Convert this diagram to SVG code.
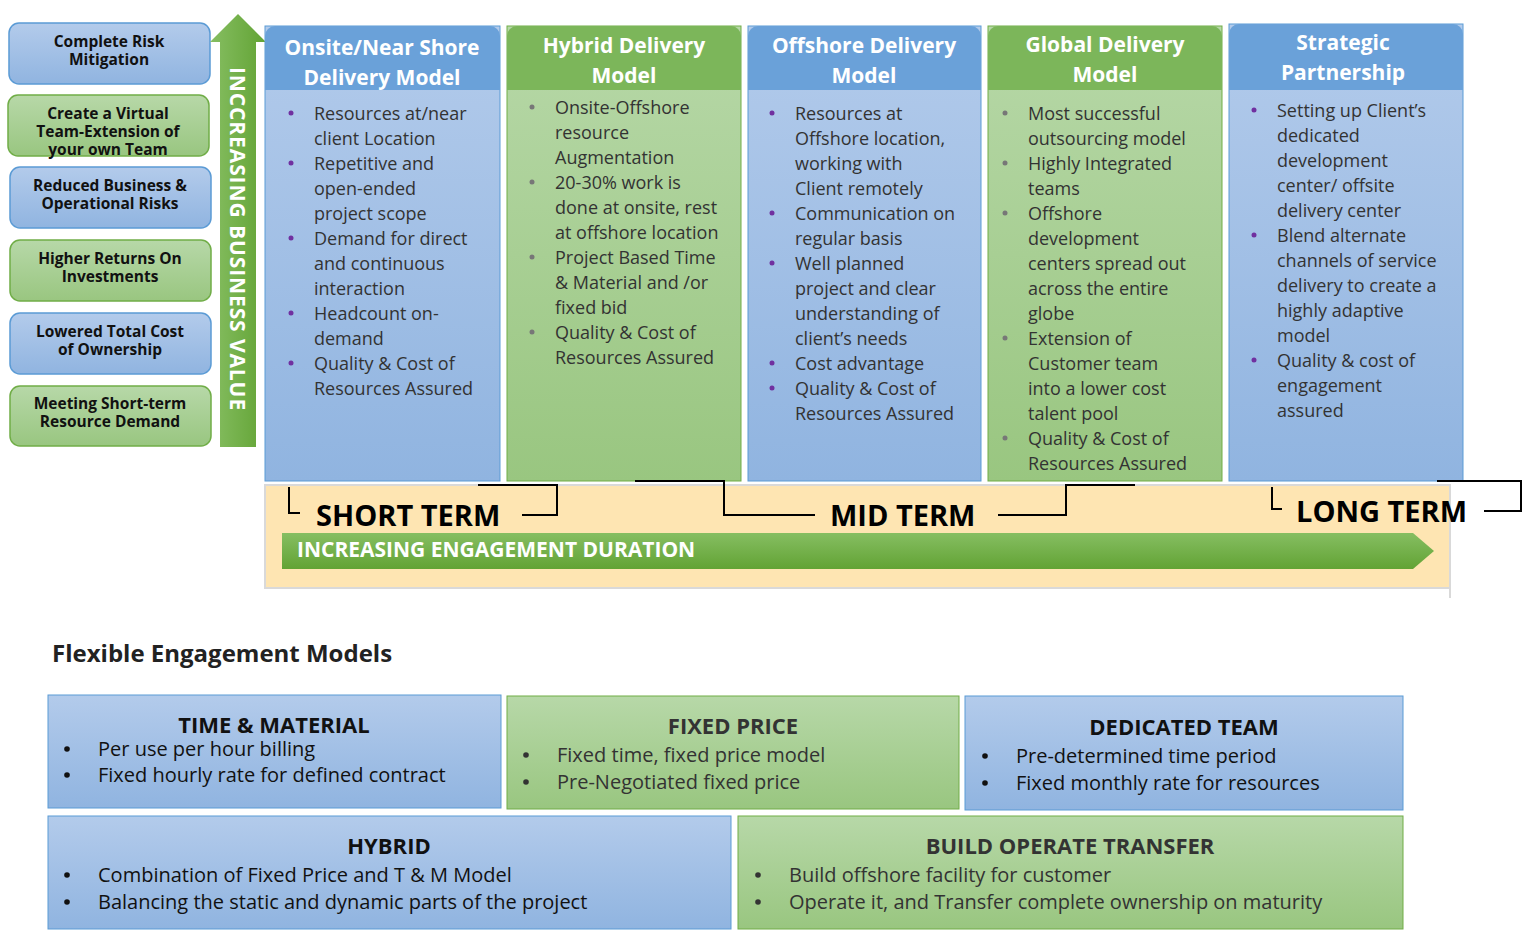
<svg xmlns="http://www.w3.org/2000/svg" width="1523" height="930" viewBox="0 0 1523 930">
<defs>
<linearGradient id="gb" x1="0" y1="0" x2="0" y2="1"><stop offset="0" stop-color="#b3cbeb"/><stop offset="1" stop-color="#90b4e0"/></linearGradient>
<linearGradient id="gg" x1="0" y1="0" x2="0" y2="1"><stop offset="0" stop-color="#b7d8a8"/><stop offset="1" stop-color="#99c680"/></linearGradient>
<linearGradient id="ga" x1="0" y1="0" x2="0" y2="1"><stop offset="0" stop-color="#86be62"/><stop offset="1" stop-color="#62a334"/></linearGradient>
<linearGradient id="gv" x1="0" y1="0" x2="1" y2="0"><stop offset="0" stop-color="#86be62"/><stop offset="1" stop-color="#62a334"/></linearGradient>
</defs>
<style>
text{font-family:"Open Sans","Liberation Sans",sans-serif}
.lb{fill:url(#gb);stroke:#5b9bd5;stroke-width:1.5}
.lg{fill:url(#gg);stroke:#70ad47;stroke-width:1.5}
.lt{font-size:15.5px;font-weight:bold;fill:#111;text-anchor:middle}
.hb{fill:#6aa1d9}.hg{fill:#7cb65a}
.bb{fill:url(#gb);stroke:#5b9bd5}.bg{fill:url(#gg);stroke:#70ad47}
.ht{font-size:21px;font-weight:bold;fill:#fff;text-anchor:middle}
.bt{font-size:18px;fill:#333}
.dot{fill:#7030a0}.dg{fill:#777}
.br{fill:none;stroke:#000;stroke-width:2}
.term{font-size:29px;font-weight:bold;fill:#000}
.et{font-size:22px;font-weight:bold;text-anchor:middle}
.ebt{font-size:20px}
.k{fill:#111}.g{fill:#333}
</style>
<g id="left-boxes">
<g id="b1"><rect class="lb" x="9" y="23" width="201" height="61" rx="10"/><text class="lt" x="109" y="47">Complete Risk</text><text class="lt" x="109" y="65">Mitigation</text></g>
<g id="b2"><rect class="lg" x="8" y="95" width="201" height="61" rx="10"/><text class="lt" x="108" y="119">Create a Virtual</text><text class="lt" x="108" y="137">Team-Extension of</text><text class="lt" x="108" y="155">your own Team</text></g>
<g id="b3"><rect class="lb" x="10" y="167" width="201" height="61" rx="10"/><text class="lt" x="110" y="191">Reduced Business &amp;</text><text class="lt" x="110" y="209">Operational Risks</text></g>
<g id="b4"><rect class="lg" x="10" y="240" width="201" height="61" rx="10"/><text class="lt" x="110" y="264">Higher Returns On</text><text class="lt" x="110" y="282">Investments</text></g>
<g id="b5"><rect class="lb" x="10" y="313" width="201" height="61" rx="10"/><text class="lt" x="110" y="337">Lowered Total Cost</text><text class="lt" x="110" y="355">of Ownership</text></g>
<g id="b6"><rect class="lg" x="10" y="386" width="201" height="60" rx="10"/><text class="lt" x="110" y="409">Meeting Short-term</text><text class="lt" x="110" y="427">Resource Demand</text></g>
</g>
<g id="value-arrow">
<polygon points="220,447 256,447 256,42 266,42 238,14 210,42 220,42" fill="url(#gv)"/>
<text transform="translate(230,239) rotate(90)" font-size="21" font-weight="bold" fill="#fff" text-anchor="middle" letter-spacing="0.9">INCCREASING BUSINESS  VALUE</text>
</g>
<g id="c1"><rect class="bb" x="265" y="26" width="235" height="455"/><path class="hb" d="M275,26h215a10,10 0 0 1 10,10v54h-235v-54a10,10 0 0 1 10,-10z"/>
<text class="ht" x="382" y="55">Onsite/Near Shore</text><text class="ht" x="382" y="85">Delivery Model</text>
<g class="bt"><text x="314" y="120">Resources at/near</text><text x="314" y="145">client Location</text><text x="314" y="170">Repetitive and</text><text x="314" y="195">open-ended</text><text x="314" y="220">project scope</text><text x="314" y="245">Demand for direct</text><text x="314" y="270">and continuous</text><text x="314" y="295">interaction</text><text x="314" y="320">Headcount on-</text><text x="314" y="345">demand</text><text x="314" y="370">Quality &amp; Cost of</text><text x="314" y="395">Resources Assured</text></g>
<g class="dot"><circle cx="291" cy="113" r="2.5"/><circle cx="291" cy="163" r="2.5"/><circle cx="291" cy="238" r="2.5"/><circle cx="291" cy="313" r="2.5"/><circle cx="291" cy="363" r="2.5"/></g></g>
<g id="c2"><rect class="bg" x="507" y="26" width="234" height="455"/><path class="hg" d="M517,26h214a10,10 0 0 1 10,10v54h-234v-54a10,10 0 0 1 10,-10z"/>
<text class="ht" x="624" y="53">Hybrid Delivery</text><text class="ht" x="624" y="83">Model</text>
<g class="bt"><text x="555" y="114">Onsite-Offshore</text><text x="555" y="139">resource</text><text x="555" y="164">Augmentation</text><text x="555" y="189">20-30% work is</text><text x="555" y="214">done at onsite, rest</text><text x="555" y="239">at offshore location</text><text x="555" y="264">Project Based Time</text><text x="555" y="289">&amp; Material and /or</text><text x="555" y="314">fixed bid</text><text x="555" y="339">Quality &amp; Cost of</text><text x="555" y="364">Resources Assured</text></g>
<g class="dg"><circle cx="532" cy="107" r="2.5"/><circle cx="532" cy="182" r="2.5"/><circle cx="532" cy="257" r="2.5"/><circle cx="532" cy="332" r="2.5"/></g></g>
<g id="c3"><rect class="bb" x="748" y="26" width="233" height="455"/><path class="hb" d="M758,26h213a10,10 0 0 1 10,10v54h-233v-54a10,10 0 0 1 10,-10z"/>
<text class="ht" x="864" y="53">Offshore Delivery</text><text class="ht" x="864" y="83">Model</text>
<g class="bt"><text x="795" y="120">Resources at</text><text x="795" y="145">Offshore location,</text><text x="795" y="170">working  with</text><text x="795" y="195">Client remotely</text><text x="795" y="220">Communication on</text><text x="795" y="245">regular basis</text><text x="795" y="270">Well planned</text><text x="795" y="295">project and clear</text><text x="795" y="320">understanding of</text><text x="795" y="345">client’s needs</text><text x="795" y="370">Cost advantage</text><text x="795" y="395">Quality &amp; Cost of</text><text x="795" y="420">Resources Assured</text></g>
<g class="dot"><circle cx="772" cy="113" r="2.5"/><circle cx="772" cy="213" r="2.5"/><circle cx="772" cy="263" r="2.5"/><circle cx="772" cy="363" r="2.5"/><circle cx="772" cy="388" r="2.5"/></g></g>
<g id="c4"><rect class="bg" x="988" y="26" width="234" height="455"/><path class="hg" d="M998,26h214a10,10 0 0 1 10,10v54h-234v-54a10,10 0 0 1 10,-10z"/>
<text class="ht" x="1105" y="52">Global Delivery</text><text class="ht" x="1105" y="82">Model</text>
<g class="bt"><text x="1028" y="120">Most successful</text><text x="1028" y="145">outsourcing model</text><text x="1028" y="170">Highly Integrated</text><text x="1028" y="195">teams</text><text x="1028" y="220">Offshore</text><text x="1028" y="245">development</text><text x="1028" y="270">centers spread out</text><text x="1028" y="295">across the entire</text><text x="1028" y="320">globe</text><text x="1028" y="345">Extension of</text><text x="1028" y="370">Customer team</text><text x="1028" y="395">into a lower cost</text><text x="1028" y="420">talent pool</text><text x="1028" y="445">Quality &amp; Cost of</text><text x="1028" y="470">Resources Assured</text></g>
<g class="dg"><circle cx="1005" cy="113" r="2.5"/><circle cx="1005" cy="163" r="2.5"/><circle cx="1005" cy="213" r="2.5"/><circle cx="1005" cy="338" r="2.5"/><circle cx="1005" cy="438" r="2.5"/></g></g>
<g id="c5"><rect class="bb" x="1229" y="24" width="234" height="457"/><path class="hb" d="M1239,24h214a10,10 0 0 1 10,10v56h-234v-56a10,10 0 0 1 10,-10z"/>
<text class="ht" x="1343" y="50">Strategic</text><text class="ht" x="1343" y="80">Partnership</text>
<g class="bt"><text x="1277" y="117">Setting up Client’s</text><text x="1277" y="142">dedicated</text><text x="1277" y="167">development</text><text x="1277" y="192">center/ offsite</text><text x="1277" y="217">delivery center</text><text x="1277" y="242">Blend alternate</text><text x="1277" y="267">channels of service</text><text x="1277" y="292">delivery to create a</text><text x="1277" y="317">highly adaptive</text><text x="1277" y="342">model</text><text x="1277" y="367">Quality &amp; cost of</text><text x="1277" y="392">engagement</text><text x="1277" y="417">assured</text></g>
<g class="dot"><circle cx="1254" cy="110" r="2.5"/><circle cx="1254" cy="235" r="2.5"/><circle cx="1254" cy="360" r="2.5"/></g></g>
<g id="timeline">
<rect x="265" y="485" width="1185" height="103" fill="#fee5b2" stroke="#d9d9d9" stroke-width="2"/>
<line x1="1450" y1="588" x2="1450" y2="598" stroke="#d9d9d9" stroke-width="2"/>
<polygon points="282,533 1413,533 1434,551 1413,569 282,569" fill="url(#ga)"/>
<text x="297" y="557" font-size="21" font-weight="bold" fill="#fff">INCREASING ENGAGEMENT DURATION</text>
<text class="term" x="316" y="526">SHORT TERM</text>
<text class="term" x="830" y="526">MID TERM</text>
<text class="term" x="1296" y="522">LONG TERM</text>
</g>
<g id="connectors">
<path class="br" d="M289,487V513H300"/>
<path class="br" d="M522,515H557V485H478"/>
<path class="br" d="M635,481H724V515H815"/>
<path class="br" d="M998,515H1066V485H1135"/>
<path class="br" d="M1272,487V509H1282"/>
<path class="br" d="M1484,511H1521V481H1437"/>
</g>
<text x="52" y="662" font-size="24" font-weight="bold" fill="#222">Flexible Engagement Models</text>
<g id="tm" class="k"><rect class="bb" x="48" y="695" width="453" height="113"/><text class="et" x="274" y="733">TIME &amp; MATERIAL</text>
<text class="ebt" x="98" y="756">Per use per hour billing</text><text class="ebt" x="98" y="782">Fixed hourly rate for defined contract</text>
<circle cx="67" cy="749" r="2.8"/><circle cx="67" cy="775" r="2.8"/></g>
<g id="fp" class="g"><rect class="bg" x="507" y="696" width="452" height="113"/><text class="et" x="733" y="734">FIXED PRICE</text>
<text class="ebt" x="557" y="762">Fixed time, fixed price model</text><text class="ebt" x="557" y="789">Pre-Negotiated fixed price</text>
<circle cx="526" cy="755" r="2.8"/><circle cx="526" cy="782" r="2.8"/></g>
<g id="dt" class="k"><rect class="bb" x="965" y="696" width="438" height="114"/><text class="et" x="1184" y="735">DEDICATED TEAM</text>
<text class="ebt" x="1016" y="763">Pre-determined time period</text><text class="ebt" x="1016" y="790">Fixed monthly rate for resources</text>
<circle cx="985" cy="756" r="2.8"/><circle cx="985" cy="783" r="2.8"/></g>
<g id="hy" class="k"><rect class="bb" x="48" y="816" width="683" height="113"/><text class="et" x="389" y="854">HYBRID</text>
<text class="ebt" x="98" y="882">Combination of Fixed Price and T &amp; M Model</text><text class="ebt" x="98" y="909">Balancing the static and dynamic parts of the project</text>
<circle cx="67" cy="875" r="2.8"/><circle cx="67" cy="902" r="2.8"/></g>
<g id="bot" class="g"><rect class="bg" x="738" y="816" width="665" height="113"/><text class="et" x="1070" y="854">BUILD OPERATE TRANSFER</text>
<text class="ebt" x="789" y="882">Build offshore facility for customer</text><text class="ebt" x="789" y="909">Operate it, and Transfer complete ownership on maturity</text>
<circle cx="758" cy="875" r="2.8"/><circle cx="758" cy="902" r="2.8"/></g>
</svg>
